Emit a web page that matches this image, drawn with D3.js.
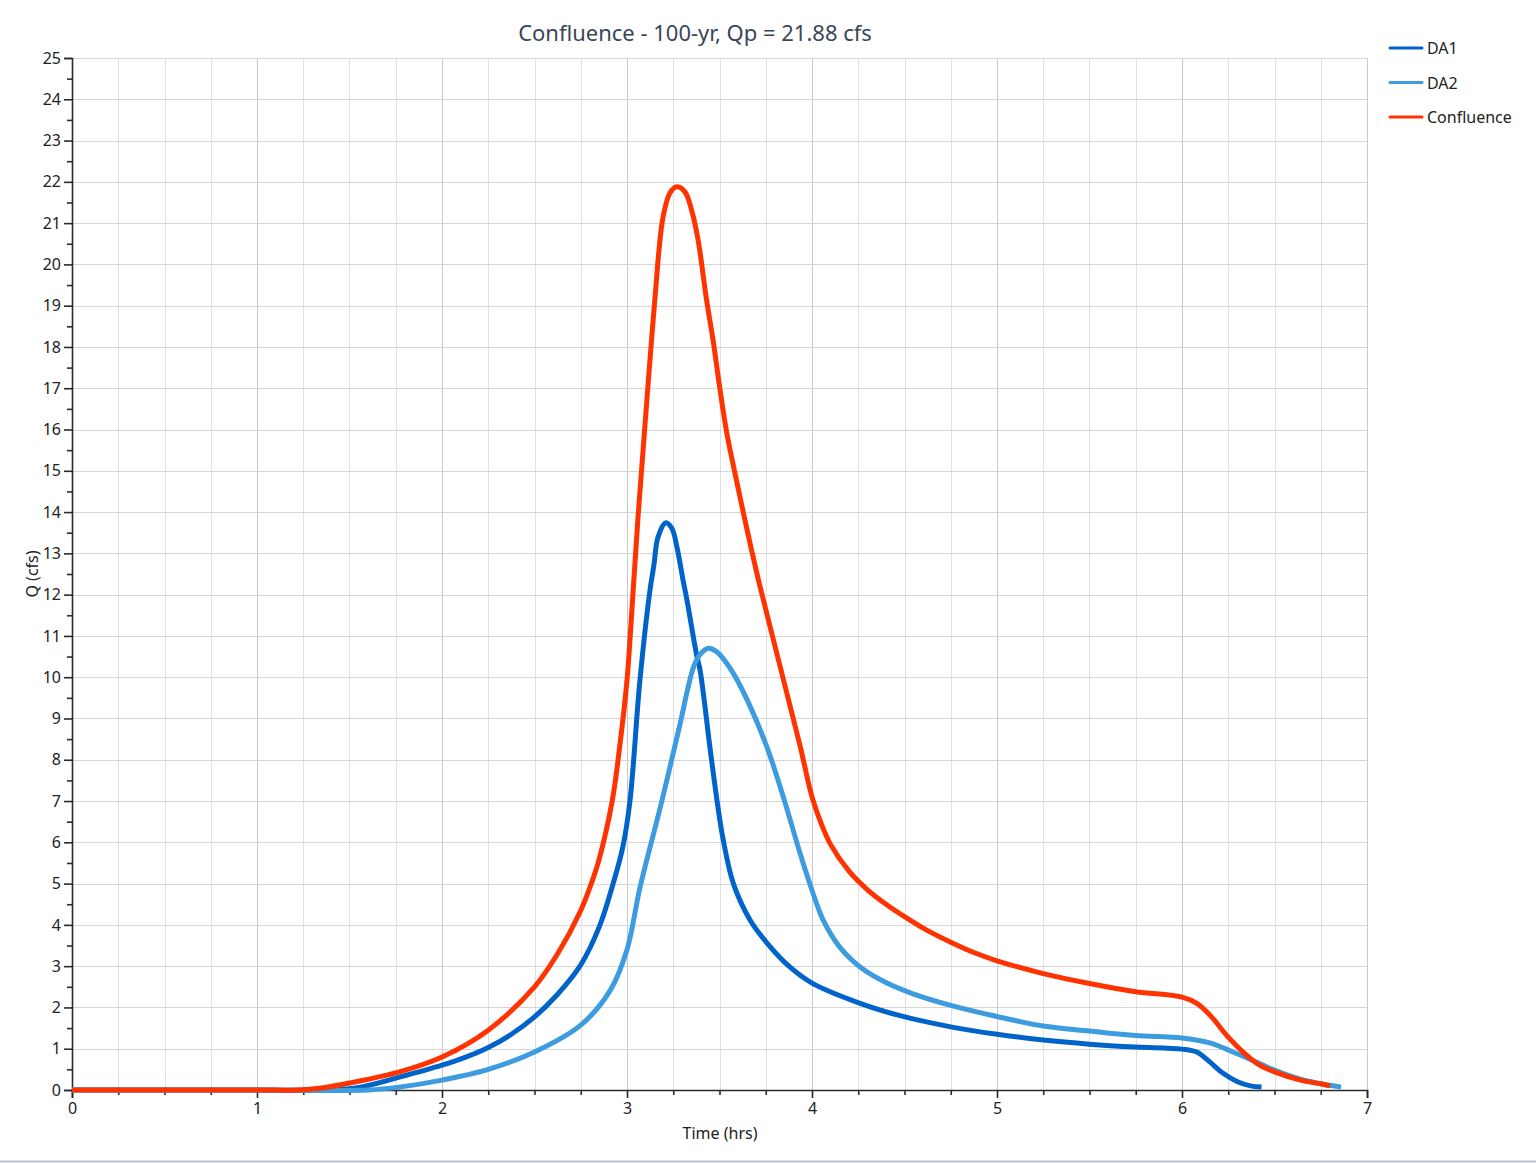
<!DOCTYPE html>
<html>
<head>
<meta charset="utf-8">
<script src="https://cdn.jsdelivr.net/npm/d3@7"></script>
<style>
  body { margin: 0; background: #fff; }
  svg { display: block; font-family: "Noto Sans", "Open Sans", sans-serif; }
  .grid line { shape-rendering: crispEdges; }
</style>
</head>
<body>
<svg id="chart" width="1536" height="1163"></svg>
<script>
// hydrograph values (time in hrs, flow in cfs)
const da1Time = [0, 0.5, 1.0, 1.40, 1.55, 1.77, 2.0, 2.125, 2.25, 2.375, 2.5, 2.625, 2.75, 2.85, 2.925, 2.978, 3.016, 3.07, 3.124, 3.145, 3.168, 3.21, 3.243, 3.27, 3.303, 3.324, 3.378, 3.395, 3.45, 3.486, 3.52, 3.575, 3.665, 3.757, 3.88, 4.0, 4.26, 4.476, 4.75, 5.0, 5.25, 5.5, 5.75, 6.0, 6.08, 6.15, 6.22, 6.3, 6.37, 6.43];
const da1Flow = [0, 0, 0, 0, 0.06, 0.31, 0.6, 0.79, 1.03, 1.35, 1.77, 2.32, 3.03, 3.95, 5.0, 5.9, 7.0, 9.93, 12.1, 12.7, 13.4, 13.74, 13.6, 13.15, 12.35, 11.87, 10.5, 10.17, 8.24, 7.03, 6.06, 5.0, 4.12, 3.56, 2.98, 2.59, 2.1, 1.8, 1.53, 1.35, 1.21, 1.11, 1.04, 0.99, 0.92, 0.68, 0.41, 0.2, 0.1, 0.07];

const da2Time = [0, 0.5, 1.0, 1.6, 1.77, 2.0, 2.25, 2.5, 2.75, 2.91, 3.0, 3.07, 3.18, 3.286, 3.33, 3.36, 3.395, 3.44, 3.48, 3.52, 3.584, 3.665, 3.757, 3.845, 3.935, 4.0, 4.06, 4.15, 4.26, 4.405, 4.546, 4.75, 5.0, 5.25, 5.5, 5.75, 6.0, 6.15, 6.25, 6.35, 6.44, 6.5, 6.64, 6.75, 6.86];
const da2Flow = [0, 0, 0, 0, 0.07, 0.24, 0.5, 0.92, 1.57, 2.42, 3.4, 4.9, 6.85, 8.85, 9.75, 10.25, 10.55, 10.7, 10.63, 10.45, 10.02, 9.3, 8.3, 7.1, 5.74, 4.84, 4.12, 3.46, 2.98, 2.59, 2.33, 2.05, 1.78, 1.55, 1.43, 1.32, 1.26, 1.14, 0.97, 0.78, 0.6, 0.48, 0.26, 0.15, 0.07];

const confTime = [0, 0.5, 1.0, 1.22, 1.35, 1.5, 1.77, 2.0, 2.25, 2.5, 2.625, 2.75, 2.807, 2.85, 2.92, 2.96, 3.0, 3.03, 3.06, 3.087, 3.114, 3.135, 3.157, 3.173, 3.195, 3.232, 3.27, 3.314, 3.35, 3.384, 3.43, 3.465, 3.503, 3.54, 3.595, 3.65, 3.708, 3.73, 3.845, 3.935, 4.0, 4.05, 4.1, 4.2, 4.3, 4.4, 4.5, 4.625, 4.75, 4.875, 5.0, 5.25, 5.5, 5.75, 6.0, 6.08, 6.15, 6.25, 6.33, 6.42, 6.5, 6.64, 6.75, 6.8];
const confFlow = [0, 0, 0, 0, 0.05, 0.17, 0.44, 0.8, 1.45, 2.5, 3.3, 4.35, 5.0, 5.6, 7.0, 8.3, 9.93, 11.87, 13.9, 15.5, 17.1, 18.3, 19.5, 20.35, 21.15, 21.73, 21.88, 21.75, 21.3, 20.6, 19.14, 18.17, 16.96, 15.9, 14.7, 13.55, 12.4, 12.0, 9.95, 8.35, 7.1, 6.45, 5.95, 5.3, 4.85, 4.5, 4.2, 3.86, 3.58, 3.33, 3.13, 2.82, 2.58, 2.38, 2.25, 2.1, 1.82, 1.28, 0.92, 0.6, 0.44, 0.24, 0.15, 0.1];

const seriesNames = ["DA1", "DA2", "Confluence"];
const seriesColors = ["#0063c9", "#3d9be0", "#ff3300"];
const xTicks = [0, 1, 2, 3, 4, 5, 6, 7];
const yTicks = d3.range(0, 26);

const chartTitle = "Confluence - 100-yr, Qp = 21.88 cfs";

const svg = d3.select("#chart");
const plotLeft = 72, plotRight = 1367, plotTop = 58, plotBottom = 1090;

const x = d3.scaleLinear().domain([0, 7]).range([plotLeft, plotRight]);
const y = d3.scaleLinear().domain([0, 25]).range([plotBottom, plotTop]);

// grid: vertical every 0.25 hr, horizontal every 1 cfs
const grid = svg.append("g").attr("class", "grid");
grid.selectAll("line.v").data(d3.range(0, 7.001, 0.25)).join("line")
    .attr("class", "v")
    .attr("x1", d => Math.round(x(d)) + 0.5).attr("x2", d => Math.round(x(d)) + 0.5)
    .attr("y1", plotTop).attr("y2", plotBottom)
    .attr("stroke", d => Number.isInteger(d) ? "#c8c8c8" : "#e0e0e0")
    .attr("stroke-width", 1.3);
grid.selectAll("line.h").data(yTicks).join("line")
    .attr("class", "h")
    .attr("y1", d => Math.round(y(d)) + 0.5).attr("y2", d => Math.round(y(d)) + 0.5)
    .attr("x1", plotLeft).attr("x2", plotRight)
    .attr("stroke", "#d6d6d6")
    .attr("stroke-width", 1.3);

// axes
const axisColor = "#2b2b2b";
const fontStack = "\"Noto Sans\", \"Open Sans\", sans-serif";
const xAxis = svg.append("g").attr("transform", `translate(0,${plotBottom})`)
    .call(d3.axisBottom(x).tickValues(xTicks).tickFormat(d3.format("d")).tickSize(8).tickPadding(5));
const xMinor = svg.append("g").attr("transform", `translate(0,${plotBottom})`)
    .call(d3.axisBottom(x).tickValues(d3.range(0, 7.001, 0.25).filter(d => !Number.isInteger(d))).tickFormat("").tickSize(5));
const yAxis = svg.append("g").attr("transform", `translate(${plotLeft},0)`)
    .call(d3.axisLeft(y).tickValues(yTicks).tickFormat(d3.format("d")).tickSize(8).tickPadding(3));
const yMinor = svg.append("g").attr("transform", `translate(${plotLeft},0)`)
    .call(d3.axisLeft(y).tickValues(d3.range(0.5, 25, 1)).tickFormat("").tickSize(5));

[xAxis, xMinor, yAxis, yMinor].forEach(g => {
    g.select(".domain").attr("stroke", axisColor).attr("stroke-width", 1.6);
    g.selectAll(".tick line").attr("stroke", axisColor).attr("stroke-width", 1.6);
    g.selectAll(".tick text").attr("fill", "#222").style("font-size", "16px")
        .style("font-family", fontStack);
});
xMinor.select(".domain").remove();
yMinor.select(".domain").remove();

// series
const seriesData = [
    da1Time.map((t, i) => [t, da1Flow[i]]),
    da2Time.map((t, i) => [t, da2Flow[i]]),
    confTime.map((t, i) => [t, confFlow[i]])
];
const line = d3.line().x(d => x(d[0])).y(d => y(d[1])).curve(d3.curveCatmullRom.alpha(0.5));
svg.append("g").selectAll("path").data(seriesData).join("path")
    .attr("d", line)
    .attr("fill", "none")
    .attr("stroke", (d, i) => seriesColors[i])
    .attr("stroke-width", 5)
    .attr("stroke-linejoin", "round");

// title and axis labels
svg.append("text")
    .attr("x", 695).attr("y", 41)
    .attr("text-anchor", "middle")
    .attr("fill", "#3a4657")
    .style("font-size", "22px")
    .text(chartTitle);
svg.append("text")
    .attr("transform", "translate(38,574) rotate(-90)")
    .attr("text-anchor", "middle")
    .attr("fill", "#222")
    .style("font-size", "16px")
    .text("Q (cfs)");
svg.append("text")
    .attr("x", 720).attr("y", 1139)
    .attr("text-anchor", "middle")
    .attr("fill", "#222")
    .style("font-size", "16px")
    .text("Time (hrs)");

// legend
const legend = svg.append("g").selectAll("g").data(seriesNames).join("g")
    .attr("transform", (d, i) => `translate(1390,${48 + i * 34.5})`);
legend.append("line")
    .attr("x1", 0).attr("x2", 32).attr("y1", 0).attr("y2", 0)
    .attr("stroke", (d, i) => seriesColors[i])
    .attr("stroke-width", 3)
    .attr("stroke-linecap", "round");
legend.append("text")
    .attr("x", 37).attr("y", 6)
    .attr("fill", "#222")
    .style("font-size", "16px")
    .text(d => d);

// bottom border of the window
svg.append("line")
    .attr("x1", 0).attr("x2", 1536).attr("y1", 1161.5).attr("y2", 1161.5)
    .attr("stroke", "#bcc4d0").attr("stroke-width", 2);
</script>
</body>
</html>
